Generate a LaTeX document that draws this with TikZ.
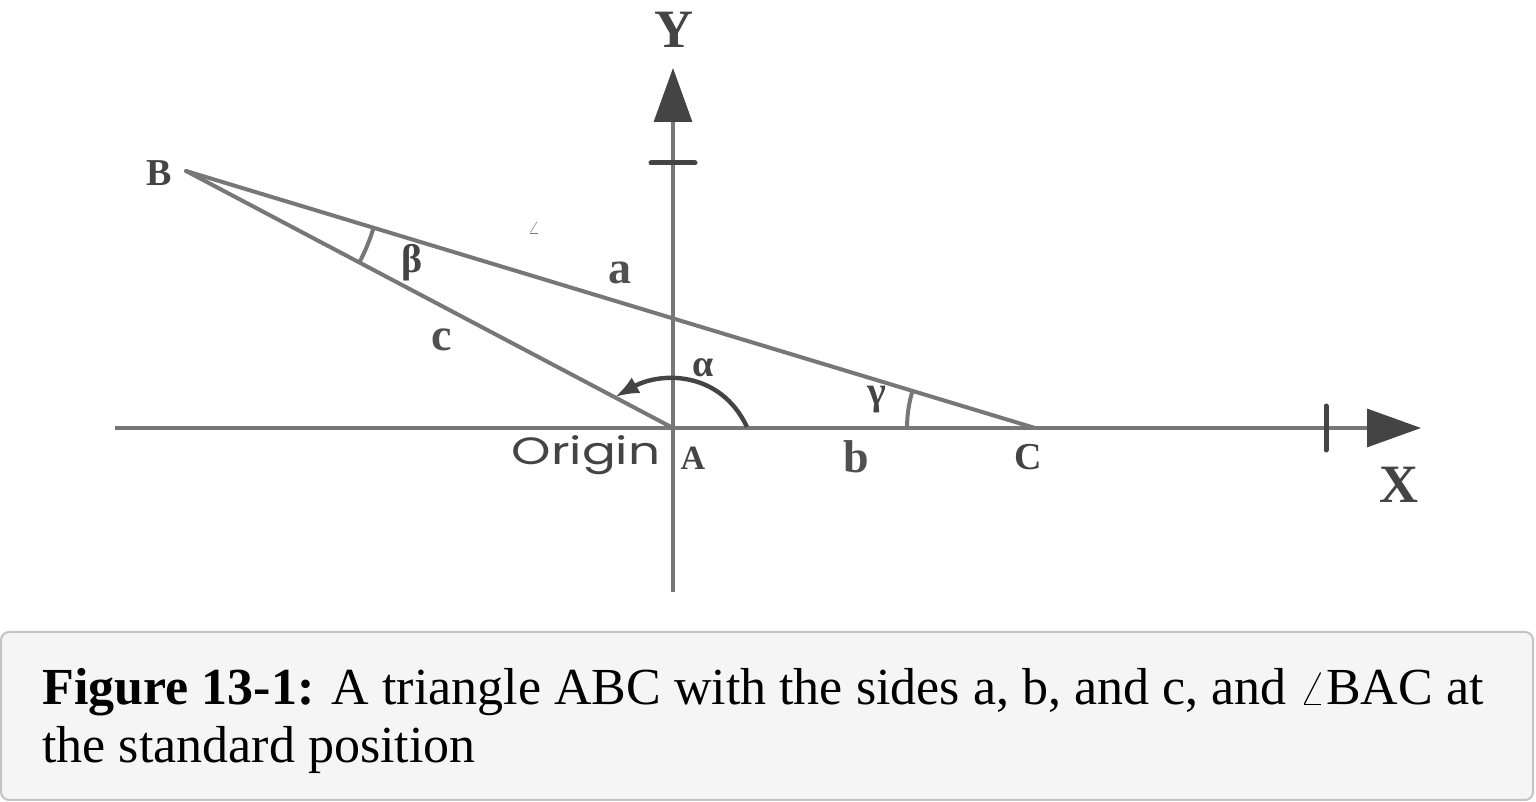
\documentclass[tikz,border=0pt]{standalone}
\usepackage{fontspec}
\setmainfont{Liberation Serif}
\newfontfamily\originfont{Poppins}[FakeStretch=1.32]
\usetikzlibrary{arrows.meta,angles}
\definecolor{linegray}{HTML}{777777}
\definecolor{darkgray}{HTML}{444444}
\definecolor{lettergray}{HTML}{505050}
\definecolor{boxfill}{HTML}{F5F5F5}
\definecolor{boxline}{HTML}{C4C4C4}
\tikzset{
	axis/.style={draw=linegray, line width=1.6pt, -{Triangle[length=27pt,width=19pt,color=darkgray]}},
	side/.style={draw=linegray, line width=2pt, line cap=round},
	tickmark/.style={draw=darkgray, line width=2.5pt, line cap=round},
	anglearc/.style={draw=linegray, line width=2pt},
	alphaarc/.style={draw=darkgray, line width=2.2pt, -{Latex[length=12pt,width=9pt]}},
	axislabel/.style={inner sep=0pt, text=darkgray, font=\bfseries\fontsize{27}{27}\selectfont},
	vertex/.style={inner sep=0pt, text=darkgray, font=\bfseries\fontsize{#1}{#1}\selectfont},
	sidelabel/.style={inner sep=0pt, text=lettergray, font=\bfseries\fontsize{23}{23}\selectfont},
	greek/.style={inner sep=0pt, text=darkgray, font=\bfseries\fontsize{#1}{#1}\selectfont},
	captext/.style={inner sep=0pt, anchor=base west, text=black, font=\fontsize{26}{29}\selectfont}
}
\begin{document}
\begin{tikzpicture}[x=0.5pt, y=0.5pt]
	\useasboundingbox (0,0) rectangle (1536,802);
	
	\coordinate (A) at (673,374);
	\coordinate (B) at (186,631);
	\coordinate (C) at (1035,374);
	\coordinate (xl) at (115,374);
	\coordinate (xr) at (1421,374);
	\coordinate (yb) at (673,210);
	\coordinate (yt) at (673,734);
	\coordinate (ytick1) at (651,639);
	\coordinate (ytick2) at (695,639);
	\coordinate (xtick1) at (1326,396);
	\coordinate (xtick2) at (1326,352);
	\coordinate (alpha0) at (747,375);
	\coordinate (alpha1) at (615,405);
	
	\draw[axis] (xl) -- (xr);
	\draw[axis] (yb) -- (yt);
	\draw[tickmark] (ytick1) -- (ytick2);
	\draw[tickmark] (xtick1) -- (xtick2);
	
	\draw[side] (A) -- (B);
	\draw[side] (B) -- (C);
	\draw[side] (C) -- (A);
	
	\pic[anglearc, angle radius=98pt] {angle=A--B--C};
	\pic[anglearc, angle radius=64pt] {angle=B--C--A};
	\draw[alphaarc] (alpha0) .. controls (720,432) and (660,430) .. (alpha1);
	
	\node[axislabel] (ylab) at (674,772) {Y};
	\node[axislabel] (xlab) at (1399,317) {X};
	\node[vertex=19] (blab) at (159,629) {B};
	\node[vertex=17] (alab) at (693,344) {A};
	\node[vertex=19] (clab) at (1028,345) {C};
	\node[sidelabel] (sa) at (620,529) {a};
	\node[sidelabel] (sb) at (856,345) {b};
	\node[sidelabel] (sc) at (442,462) {c};
	\node[greek=20] (beta) at (412,539) {β};
	\node[greek=20] (gamma) at (877,402) {γ};
	\node[greek=19] (alpha) at (703,434) {α};
	\node[inner sep=0pt, text=darkgray, font=\originfont\fontsize{19}{19}\selectfont] (origin) at (586,347) {Origin};
	\node[inner sep=0pt, text=linegray, font=\fontsize{9}{9}\selectfont] (stray) at (534,574) {$\angle$};
	
	\draw[fill=boxfill, draw=boxline, line width=1pt, rounded corners=4pt] (1,2) rectangle (1533,170);
	\node[captext] (cap1) at (42,97) {\textbf{Figure 13-1:} A triangle ABC with the sides a, b, and c, and $\angle$BAC at};
	\node[captext] (cap2) at (42,39) {the standard position};
	
\end{tikzpicture}
\end{document}
